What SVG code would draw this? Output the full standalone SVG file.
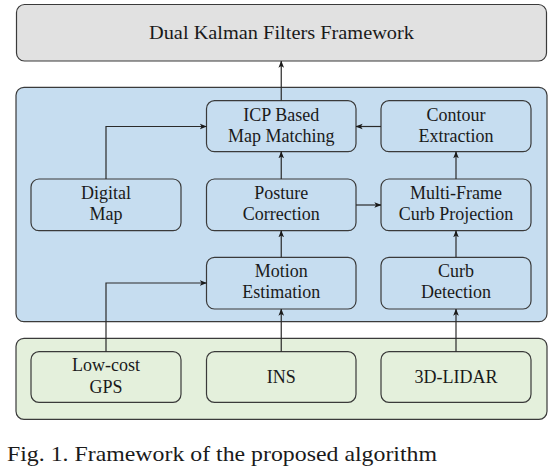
<svg xmlns="http://www.w3.org/2000/svg" width="554" height="471" viewBox="0 0 554 471">
<style>
  text { font-family: "Times New Roman", "Liberation Serif", Tinos, "DejaVu Serif", "Noto Serif", FreeSerif, serif; }
  .t { font-size: 18px; fill: #1a1a1a; text-anchor: middle; }
  .node { fill: #c6ddf0; stroke: #3a3a3a; stroke-width: 1.2; }
  .inp { fill: #e4f0dc; stroke: #3a3a3a; stroke-width: 1.2; }
  .conn { fill: none; stroke: #2a2a2a; stroke-width: 1.2; marker-end: url(#ah); }
</style>
<defs>
  <marker id="ah" viewBox="0 0 10 10" refX="9.5" refY="5" markerWidth="7" markerHeight="7" markerUnits="userSpaceOnUse" orient="auto">
    <path d="M0,1 L10,5 L0,9 L2.5,5 Z" fill="#1a1a1a"/>
  </marker>
</defs>
<rect width="554" height="471" fill="#ffffff"/>
<g id="framework">
  <rect x="16.5" y="4.5" width="530" height="56.5" rx="8" fill="#e1e1e1" stroke="#3a3a3a" stroke-width="1.2"/>
  <text class="t" x="281.5" y="38.5" font-size="17.5" textLength="265" lengthAdjust="spacingAndGlyphs">Dual Kalman Filters Framework</text>
</g>
<g id="processing">
  <rect x="16" y="87.3" width="531" height="234.4" rx="8" fill="#c6ddf0" stroke="#3a3a3a" stroke-width="1.2"/>
</g>
<g id="sensors">
  <rect x="16" y="338.3" width="531" height="81" rx="8" fill="#e4f0dc" stroke="#3a3a3a" stroke-width="1.2"/>
</g>
<g id="icp">
  <rect class="node" x="206.5" y="100.7" width="149.5" height="51" rx="8"/>
  <text class="t" x="281.25" y="120.7">ICP Based</text>
  <text class="t" x="281.25" y="142.3">Map Matching</text>
</g>
<g id="contour">
  <rect class="node" x="381" y="100.7" width="150" height="51" rx="8"/>
  <text class="t" x="456" y="120.7">Contour</text>
  <text class="t" x="456" y="142.3">Extraction</text>
</g>
<g id="digital-map">
  <rect class="node" x="31" y="179" width="150" height="51.7" rx="8"/>
  <text class="t" x="106" y="198.5">Digital</text>
  <text class="t" x="106" y="220">Map</text>
</g>
<g id="posture">
  <rect class="node" x="206.5" y="179" width="149.5" height="51.7" rx="8"/>
  <text class="t" x="281.25" y="198.5">Posture</text>
  <text class="t" x="281.25" y="220">Correction</text>
</g>
<g id="multi-frame">
  <rect class="node" x="381" y="179" width="150" height="51.7" rx="8"/>
  <text class="t" x="456" y="198.5">Multi-Frame</text>
  <text class="t" x="456" y="220">Curb Projection</text>
</g>
<g id="motion">
  <rect class="node" x="206.5" y="257.3" width="149.5" height="51.7" rx="8"/>
  <text class="t" x="281.25" y="276.8">Motion</text>
  <text class="t" x="281.25" y="298.3">Estimation</text>
</g>
<g id="curb">
  <rect class="node" x="381" y="257.3" width="150" height="51.7" rx="8"/>
  <text class="t" x="456" y="276.8">Curb</text>
  <text class="t" x="456" y="298.3">Detection</text>
</g>
<g id="gps">
  <rect class="inp" x="31" y="351.7" width="150" height="50.6" rx="8"/>
  <text class="t" x="106" y="371">Low-cost</text>
  <text class="t" x="106" y="393">GPS</text>
</g>
<g id="ins">
  <rect class="inp" x="206.5" y="351.7" width="149.5" height="50.6" rx="8"/>
  <text class="t" x="281.25" y="383.3">INS</text>
</g>
<g id="lidar">
  <rect class="inp" x="381" y="351.7" width="150" height="50.6" rx="8"/>
  <text class="t" x="456" y="383.3">3D-LIDAR</text>
</g>
<g id="connectors">
  <path class="conn" d="M281.25,100.7 V61"/>
  <path class="conn" d="M381,126.5 H356"/>
  <path class="conn" d="M106,179 V126.5 H206.5"/>
  <path class="conn" d="M281.25,179 V151.7"/>
  <path class="conn" d="M356,205 H381"/>
  <path class="conn" d="M456,179 V151.7"/>
  <path class="conn" d="M281.25,257.3 V230.7"/>
  <path class="conn" d="M456,257.3 V230.7"/>
  <path class="conn" d="M106,351.7 V283 H206.5"/>
  <path class="conn" d="M281.25,351.7 V309"/>
  <path class="conn" d="M456,351.7 V309"/>
</g>
<text x="7" y="461" font-size="21.5" fill="#1a1a1a" textLength="430" lengthAdjust="spacingAndGlyphs">Fig. 1. Framework of the proposed algorithm</text>
</svg>
